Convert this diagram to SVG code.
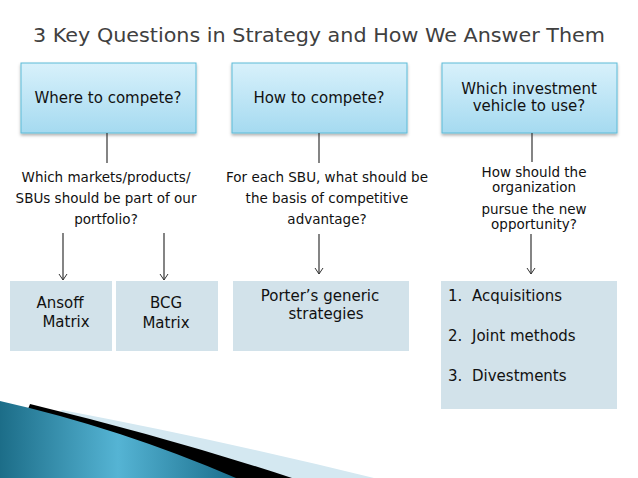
<svg xmlns="http://www.w3.org/2000/svg" width="638" height="478" viewBox="0 0 638 478">
<defs>
<linearGradient id="qg" x1="0" y1="0" x2="0" y2="1">
<stop offset="0" stop-color="#d8f1fb"/>
<stop offset="1" stop-color="#a5daf0"/>
</linearGradient>
<linearGradient id="teal" x1="0" y1="0" x2="1" y2="0">
<stop offset="0" stop-color="#1c6d88"/>
<stop offset="0.5" stop-color="#55b4d4"/>
<stop offset="1" stop-color="#1a6e8c"/>
</linearGradient>
<filter id="sh" x="-10%" y="-10%" width="120%" height="130%">
<feDropShadow dx="0" dy="2" stdDeviation="1.5" flood-color="#000" flood-opacity="0.3"/>
</filter>
<marker id="ar" markerWidth="10" markerHeight="10" refX="8" refY="5" orient="auto" markerUnits="userSpaceOnUse">
<path d="M2,1 L8,5 L2,9" fill="none" stroke="#333" stroke-width="1"/>
</marker>
<style>
.q{fill:url(#qg);stroke:#5cbbd8;stroke-width:1;filter:url(#sh)}
.a{fill:#d2e2ea}
.t{font-family:"DejaVu Sans",sans-serif;fill:#111}
.qt{font-size:15px;text-anchor:middle}
.mt{font-size:13.5px;text-anchor:middle}
.at{font-size:15px}
.ln{stroke:#333;stroke-width:1.2;fill:none}
</style>
</defs>
<rect width="638" height="478" fill="#fff"/>
<g id="swoosh">
<path d="M62,410 Q220,440 374,478 L0,478 Z" fill="#d4e8f1"/>
<path d="M30,404 Q170,438 292,478 L0,478 Z" fill="#000"/>
<path d="M0,401 Q120,428 236,478 L0,478 Z" fill="url(#teal)"/>
</g>
<text id="title" x="319" y="42" class="t" font-size="20" style="fill:#404040" text-anchor="middle" textLength="572" lengthAdjust="spacingAndGlyphs">3 Key Questions in Strategy and How We Answer Them</text>
<g id="q1"><rect class="q" x="21" y="63" width="175" height="70"/><text class="t qt" x="108" y="103">Where to compete?</text></g>
<g id="q2"><rect class="q" x="232" y="63" width="175" height="70"/><text class="t qt" x="319" y="103">How to compete?</text></g>
<g id="q3"><rect class="q" x="442" y="63" width="175" height="70"/><text class="t qt" x="529" y="94">Which investment</text><text class="t qt" x="529" y="111">vehicle to use?</text></g>
<g id="m1"><text class="t mt" x="106" y="182">Which markets/products/</text><text class="t mt" x="106" y="203">SBUs should be part of our</text><text class="t mt" x="106" y="224">portfolio?</text></g>
<g id="m2"><text class="t mt" x="327" y="182">For each SBU, what should be</text><text class="t mt" x="327" y="203">the basis of competitive</text><text class="t mt" x="327" y="224">advantage?</text></g>
<g id="m3"><text class="t mt" x="534" y="177">How should the</text><text class="t mt" x="534" y="192">organization</text><text class="t mt" x="534" y="214">pursue the new</text><text class="t mt" x="534" y="229">opportunity?</text></g>
<g id="connectors">
<line class="ln" x1="107" y1="133" x2="107" y2="163"/>
<line class="ln" x1="319" y1="133" x2="319" y2="163"/>
<line class="ln" x1="532" y1="133" x2="532" y2="162"/>
<line class="ln" x1="63" y1="233" x2="63" y2="280" marker-end="url(#ar)"/>
<line class="ln" x1="164" y1="233" x2="164" y2="280" marker-end="url(#ar)"/>
<line class="ln" x1="319" y1="234" x2="319" y2="274" marker-end="url(#ar)"/>
<line class="ln" x1="531" y1="234" x2="531" y2="274" marker-end="url(#ar)"/>
</g>
<g id="ansoff"><rect class="a" x="10" y="281" width="102" height="70"/><text class="t at" x="60" y="308" text-anchor="middle">Ansoff</text><text class="t at" x="66" y="327" text-anchor="middle">Matrix</text></g>
<g id="bcg"><rect class="a" x="116" y="281" width="102" height="70"/><text class="t at" x="166" y="308" text-anchor="middle">BCG</text><text class="t at" x="166" y="328" text-anchor="middle">Matrix</text></g>
<g id="porter"><rect class="a" x="233" y="281" width="176" height="70"/><text class="t at" x="320" y="301" text-anchor="middle">Porter’s generic</text><text class="t at" x="326" y="319" text-anchor="middle">strategies</text></g>
<g id="vehicles"><rect class="a" x="441" y="281" width="176" height="128"/>
<text class="t at" x="448" y="301">1.</text><text class="t at" x="472" y="301">Acquisitions</text>
<text class="t at" x="448" y="341">2.</text><text class="t at" x="472" y="341">Joint methods</text>
<text class="t at" x="448" y="381">3.</text><text class="t at" x="472" y="381">Divestments</text>
</g>
</svg>
